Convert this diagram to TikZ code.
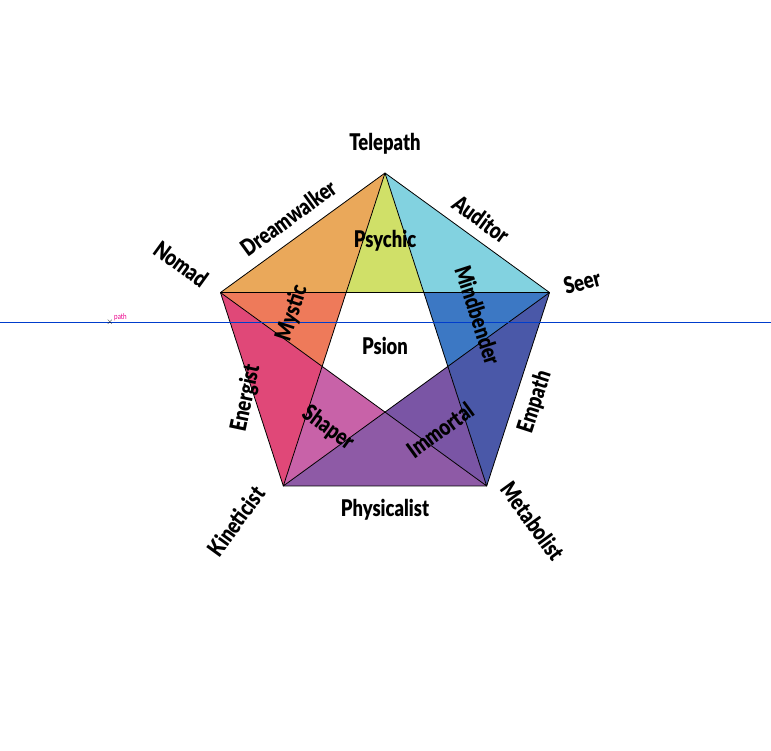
\documentclass[tikz,border=0pt]{standalone}
\usepackage{fontspec}
\setmainfont{Lato}[FakeStretch=0.8,BoldFont={Lato Black}]
\begin{document}
\begin{tikzpicture}[x=1pt,y=-1pt,
  lab/.style={font=\bfseries\fontsize{23}{24}\selectfont,inner sep=0pt},
  tri/.style={draw=black,line width=0.8pt,line join=round}]
\useasboundingbox (0,0) rectangle (771,750);
\fill[white] (0,0) rectangle (771,750);
\foreach \i/\a in {0/90,1/18,2/-54,3/-126,4/162}
  \coordinate (V\i) at ({385+173*cos(\a)},{346-173*sin(\a)});
\foreach \i/\a in {0/54,1/-18,2/-90,3/198,4/126}
  \coordinate (I\i) at ({385+66*cos(\a)},{346-66*sin(\a)});
\definecolor{cPsy}{HTML}{D0E068}\definecolor{cAud}{HTML}{82D2E0}
\definecolor{cMin}{HTML}{3C78C4}\definecolor{cEmp}{HTML}{4A58A8}
\definecolor{cImm}{HTML}{7A55A5}\definecolor{cPhy}{HTML}{8E5AA6}
\definecolor{cSha}{HTML}{C862A8}\definecolor{cEne}{HTML}{E04878}
\definecolor{cMys}{HTML}{EE7A5A}\definecolor{cDre}{HTML}{EAA85A}
\fill[cPsy] (V0)--(I4)--(I0)--cycle;
\fill[cAud] (V0)--(V1)--(I0)--cycle;
\fill[cMin] (V1)--(I0)--(I1)--cycle;
\fill[cEmp] (V1)--(V2)--(I1)--cycle;
\fill[cImm] (V2)--(I1)--(I2)--cycle;
\fill[cPhy] (V2)--(V3)--(I2)--cycle;
\fill[cSha] (V3)--(I2)--(I3)--cycle;
\fill[cEne] (V3)--(V4)--(I3)--cycle;
\fill[cMys] (V4)--(I3)--(I4)--cycle;
\fill[cDre] (V4)--(V0)--(I4)--cycle;
\draw[tri] (V0)--(V1)--(V2)--(V3)--(V4)--cycle;
\draw[tri] (V0)--(V2)--(V4)--(V1)--(V3)--cycle;
\draw[blue!70!cyan!80!black,line width=0.7pt] (0,322)--(771,322);
\node[inner sep=0pt,font=\fontsize{9}{9}\selectfont] (x) at (110,322) {$\times$};
\node[inner sep=0pt,anchor=south west,text=magenta,font=\fontsize{8}{8}\selectfont\mdseries] (p) at (114,321) {path};
\node[lab] (t1) at (385,144) {Telepath};
\node[lab,rotate=-36] (t2) at (481,219) {Auditor};
\node[lab,rotate=15] (t3) at (582,282) {Seer};
\node[lab,rotate=36] (t4) at (288,218) {Dreamwalker};
\node[lab,rotate=-36] (t5) at (181,264) {Nomad};
\node[lab,rotate=78] (t6) at (246,398) {Energist};
\node[lab,rotate=72] (t7) at (535,402) {Empath};
\node[lab,rotate=54] (t8) at (236,521) {Kineticist};
\node[lab] (t9) at (385,510) {Physicalist};
\node[lab,rotate=-54] (t10) at (533,521) {Metabolist};
\node[lab] (t11) at (385,241) {Psychic};
\node[lab,rotate=-72] (t12) at (478,315) {Mindbender};
\node[lab,rotate=72] (t13) at (292,313) {Mystic};
\node[lab,rotate=-36] (t14) at (328,428) {Shaper};
\node[lab,rotate=36] (t15) at (440,430) {Immortal};
\node[lab] (t16) at (385,346) {Psion};
\end{tikzpicture}
\end{document}
